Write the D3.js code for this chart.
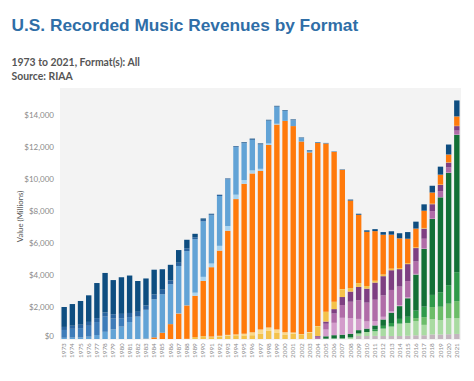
<!DOCTYPE html>
<html><head><meta charset="utf-8">
<script src="https://cdn.jsdelivr.net/npm/d3@7"></script>
<style>
body{margin:0;background:#fff;}
svg{display:block;}
</style></head><body>
<svg id="chart" width="474" height="381"></svg>
<script>
const years = d3.range(1973, 2022).map(String);
const z = n => Array(n).fill(0);

// Values in $ millions, per year 1973..2021
const lpEp = [1246.9,1356.1,1485.0,1663.0,2195.1,2473.3,2136.0,2290.3,2341.7,1925.1,
  1689.0,1548.8,1280.5,983.0,793.1,532.3,220.3,86.5,29.4,13.5,
  10.6,17.8,25.1,36.8,33.3,34.0,31.8,27.7,27.4,20.5,
  21.7,19.3,14.2,15.7,22.9,56.7,61.1,88.9,119.2,163.1,
  211.1,314.9,416.0,430.1,395.6,419.2,497.4,619.6,996.6];
const vinylSingle = [190.0,194.0,211.5,245.1,245.1,260.3,275.4,269.3,256.4,283.0,
  269.3,298.7,281.0,228.1,203.3,180.4,116.4,94.4,63.9,66.4,
  51.2,47.2,46.7,47.5,35.6,25.7,27.9,26.3,31.4,24.9,
  21.5,19.9,13.2,11.4,4.0,2.9,3.0,2.3,4.8,3.0,
  2.6,6.1,5.9,6.1,7.0,5.8,6.4,6.8,7.0];
const eightTrack = [489.0,549.0,583.0,678.2,811.0,948.0,669.4,526.4,309.0,35.0].concat(z(39));
const cassette = [76.0,87.2,98.8,145.7,249.6,449.8,604.6,776.4,1062.8,1384.5,
  1810.9,2383.9,2411.5,2499.5,2959.7,3385.1,3345.8,3472.4,3019.6,3116.3,
  2915.8,2976.4,2303.6,1905.3,1522.7,1419.9,1061.6,626.0,363.4,209.8,
  108.1,23.7,13.1,3.7,3.1,0.9,0,0,0,0].concat(z(9));
const cassetteSingle = z(14).concat([14.3,9.8,194.6,257.9,230.4,298.8,298.5,274.9,236.3,189.3,133.5,94.4,48.0,4.6]).concat(z(21));
const cd = z(10).concat([17.2,103.3,389.5,930.1,1593.6,2089.9,2587.7,3451.6,4337.7,5326.5,
  6511.4,8464.5,9377.4,9934.7,9915.1,11416.0,12816.3,13214.5,12909.4,12044.1,
  11232.9,11446.5,10520.2,9372.6,7452.3,5471.3,4274.1,3389.4,3100.7,2485.6,
  2123.5,1855.6,1523.4,1169.1,1074.1,698.0,614.5,483.2,584.2]);
const cdSingle = z(15).concat([9.8,0,6.0,35.1,45.1,45.8,56.1,110.9,184.1,272.7,213.2,222.4,142.7,79.4,19.6,36.0,15.0,10.9,7.7,12.2,3.5,3.1,2.1]).concat(z(11));
const musicVideo = z(16).concat([115.4,172.3,118.1,157.4,213.3,231.1,220.3,236.1,323.9,508.0,
  376.7,281.9,329.2,288.4,399.9,607.2,602.2,451.2,484.9,218.9,
  235.9,165.9,119.0,106.0,99.6,68.8,58.5,46.5,38.9,30.1,
  28.4,20.5,17.2]);
const downloadAlbum = z(31).concat([45.5,135.7,275.9,497.7,635.3,829.0,872.4,1070.8,1204.7,1233.7,
  1092.5,1060.3,838.4,636.3,433.6,383.9,305.2,283.5]);
const downloadSingle = z(31).concat([138.0,363.3,580.6,801.6,1032.2,1172.0,1177.4,1332.3,1336.4,1325.8,
  1155.7,1016.1,777.2,617.2,472.6,369.5,318.3,247.2]);
const ringtones = z(32).concat([421.6,773.8,1055.8,977.1,702.4,448.0,276.2,166.9,97.9,65.5,
  59.7,39.3,24.8,21.2,17.7,18.5,17.6]);
const paidSubscription = z(32).concat([149.2,206.2,234.0,221.4,206.2,212.3,247.8,399.9,643.6,799.1,
  1157.7,2258.1,3603.7,4747.4,5935.8,7023.7,8590.3]);
const onDemandAd = z(38).concat([111.9,170.0,220.0,294.7,385.1,469.4,658.7,759.2,908.3,1160.6,1809.5]);
const limitedTier = z(43).concat([189.6,482.1,761.0,829.2,907.4,1066.0]);
const soundExchange = z(31).concat([6.8,20.4,32.8,36.2,100.0,155.5,249.2,292.0,462.0,590.4,
  773.4,802.6,883.9,652.0,952.8,908.2,1000.0,987.0]);
const synchronization = z(36).concat([192.5,188.1,196.5,189.9,189.9,189.6,202.9,232.1,232.7,284.8,280.8,300.5,316.4]);

const yTicks = [0,2000,4000,6000,8000,10000,12000,14000];

// stack order: bottom -> top
const seriesNames = ["Synchronization","SoundExchange Distributions","Limited Tier Paid Subscription",
  "On-Demand Streaming (Ad-Supported)","Paid Subscription","Ringtones & Ringbacks","Download Single",
  "Download Album","Music Video (Physical)","CD Single","CD","Cassette Single","Cassette","8 - Track",
  "Vinyl Single","LP/EP"];
const seriesValues = [synchronization,soundExchange,limitedTier,onDemandAd,paidSubscription,ringtones,
  downloadSingle,downloadAlbum,musicVideo,cdSingle,cd,cassetteSingle,cassette,eightTrack,vinylSingle,lpEp];
const seriesColors = ["#c3b5be","#a9dba2","#6cbd69","#2f9a4a","#137036","#d39ccb","#b06ca8",
  "#7e3f82","#f4c24a","#fbd98a","#ff7a0b","#a9d4f0","#62a3d6","#3e7cb9","#2a64a0","#0e4d80"];

const table = years.map((yr, i) => {
  const row = {year: yr};
  seriesNames.forEach((n, k) => row[n] = seriesValues[k][i]);
  return row;
});

const svg = d3.select("#chart");
const M = {left: 60, right: 461, top: 88, bottom: 339};

const x = d3.scaleBand().domain(years).range([M.left, M.right]).paddingInner(0.34).paddingOuter(0.18);
const y = d3.scaleLinear().domain([0, 15700]).range([M.bottom, M.top]);

// plot background
svg.append("rect").attr("x", M.left).attr("y", M.top)
  .attr("width", M.right - M.left).attr("height", M.bottom - M.top + 1).attr("fill", "#f3f3f3");

const layers = d3.stack().keys(seriesNames)(table);

svg.append("g").selectAll("g").data(layers).join("g")
  .attr("fill", (d, i) => seriesColors[i])
  .selectAll("rect").data(d => d.filter(s => s[1] - s[0] > 0)).join("rect")
  .attr("x", d => x(d.data.year))
  .attr("width", x.bandwidth())
  .attr("y", d => y(d[1]))
  .attr("height", d => Math.max(0, y(d[0]) - y(d[1])));

// y axis
const yAxis = svg.append("g").attr("transform", `translate(${M.left - 3},0)`)
  .call(d3.axisLeft(y).tickValues(yTicks).tickSize(0).tickFormat(d3.format("$,")));
yAxis.select(".domain").remove();
yAxis.selectAll("text").attr("fill", "#8a8a8a").style("font-family", "Lato, 'Open Sans', sans-serif")
  .style("font-size", "8px").attr("dy", d => d === 0 ? "-0.1em" : "0.32em");

// y title
svg.append("text").attr("transform", `translate(23,${(M.top + M.bottom) / 2 + 3}) rotate(-90)`)
  .attr("text-anchor", "middle").attr("fill", "#555")
  .style("font-family", "Lato, 'Open Sans', sans-serif").style("font-size", "7.8px")
  .text("Value (Millions)");

// x axis labels (rotated, reading bottom-to-top)
const xAxis = svg.append("g").attr("transform", `translate(0,${M.bottom + 3})`)
  .call(d3.axisBottom(x).tickSize(0));
xAxis.select(".domain").remove();
xAxis.selectAll("text")
  .attr("transform", "rotate(-90)").attr("text-anchor", "start")
  .attr("x", -16).attr("y", 0).attr("dy", "0.33em")
  .attr("fill", "#8a8a8a").style("font-family", "Lato, 'Open Sans', sans-serif").style("font-size", "6.4px");

// titles
function fit(sel, w) {
  const fs = parseFloat(sel.style("font-size"));
  const cur = sel.node().getComputedTextLength();
  sel.style("font-size", (fs * w / cur) + "px");
}
const t = svg.append("text").attr("x", 11.5).attr("y", 30.5).attr("fill", "#2f6ea7")
  .style("font-family", "'Liberation Sans', Arial, sans-serif").style("font-weight", "bold").style("font-size", "18px")
  .text("U.S. Recorded Music Revenues by Format");
fit(t, 347);
const s1 = svg.append("text").attr("x", 11.5).attr("y", 65.5).attr("fill", "#555")
  .style("font-family", "Lato, 'Open Sans', sans-serif").style("font-weight", "bold").style("font-size", "10.5px")
  .text("1973 to 2021, Format(s): All");
fit(s1, 128.5);
svg.append("text").attr("x", 11.5).attr("y", 79.5).attr("fill", "#555")
  .style("font-family", "Lato, 'Open Sans', sans-serif").style("font-weight", "bold").style("font-size", s1.style("font-size"))
  .text("Source: RIAA");
</script>
</body></html>
